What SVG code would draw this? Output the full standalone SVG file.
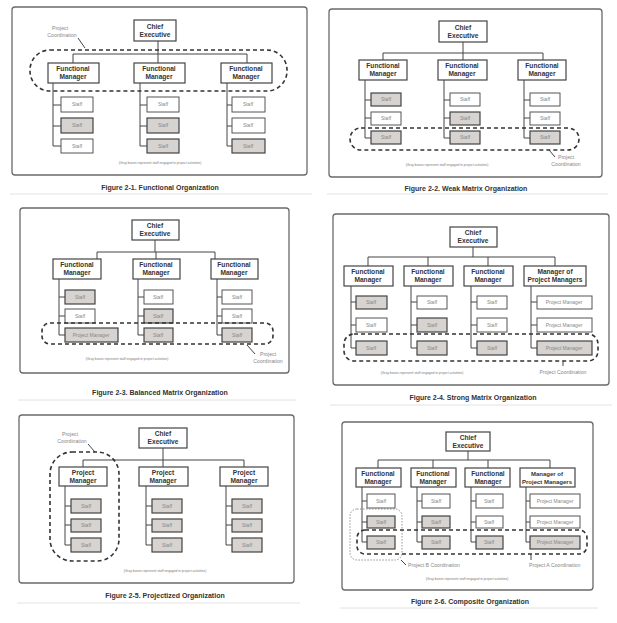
<svg xmlns="http://www.w3.org/2000/svg" width="617" height="623" viewBox="0 0 617 623">
<style>
.fr{fill:#fff;stroke:#6a6a6a;stroke-width:1.3}
.b{fill:#fff;stroke:#444;stroke-width:1.2}
.w{fill:#fff;stroke:#555;stroke-width:1}
.g{fill:#d6d3d0;stroke:#444;stroke-width:1.2}
.l{fill:none;stroke:#444;stroke-width:1}
.d{fill:none;stroke:#333;stroke-width:1.6;stroke-dasharray:4 3}
.dt{fill:none;stroke:#777;stroke-width:0.8;stroke-dasharray:1.5 1.5}
.sep{stroke:#e2e2e2;stroke-width:1}
text{font-family:"Liberation Sans",Arial,sans-serif;text-anchor:middle}
.t{font-size:6.6px;font-weight:bold;fill:#333}
.s{font-size:5px;fill:#888}
.n{font-size:3.3px;fill:#777}
.c{font-size:7px;font-weight:bold;fill:#333}
.p{font-size:5.2px;fill:#888}
.pl{font-size:5.2px;fill:#888;text-anchor:start}
</style>
<rect width="617" height="623" fill="#fff"/>

<!-- Panel 1 -->
<g id="panel1">
<rect class="fr" x="12" y="7" width="295" height="168" rx="3"/>
<line class="sep" x1="10" y1="194" x2="312" y2="194"/>
<text class="c" x="160" y="190">Figure 2-1. Functional Organization</text>
<g id="p1-connectors">
<path class="l" d="M158 41V54M73 54H247M73 54V63M158 54V63M247 54V63M53 83V146H61M53 105H61M53 126H61M140 83V146H147M140 105H147M140 126H147M227 83V146H232M227 105H232M227 126H232M78 38L85 48"/>
</g>
<g id="p1-chief"><rect class="b" x="134" y="20" width="42" height="21"/><text class="t" x="155" y="29">Chief</text><text class="t" x="155" y="37">Executive</text></g>
<g id="p1-fm1"><rect class="b" x="48" y="63" width="51" height="20"/><text class="t" x="73" y="71">Functional</text><text class="t" x="73" y="79">Manager</text></g>
<g id="p1-fm2"><rect class="b" x="134" y="63" width="51" height="20"/><text class="t" x="159" y="71">Functional</text><text class="t" x="159" y="79">Manager</text></g>
<g id="p1-fm3"><rect class="b" x="221" y="63" width="51" height="20"/><text class="t" x="246" y="71">Functional</text><text class="t" x="246" y="79">Manager</text></g>
<g id="p1-s"><rect class="w" x="61" y="97" width="32" height="15"/><text class="s" x="77" y="106">Staff</text>
<rect class="g" x="61" y="118" width="32" height="15"/><text class="s" x="77" y="127">Staff</text>
<rect class="w" x="61" y="139" width="32" height="14"/><text class="s" x="77" y="148">Staff</text>
<rect class="w" x="147" y="97" width="32" height="15"/><text class="s" x="163" y="106">Staff</text>
<rect class="g" x="147" y="118" width="32" height="15"/><text class="s" x="163" y="127">Staff</text>
<rect class="g" x="147" y="139" width="32" height="14"/><text class="s" x="163" y="148">Staff</text>
<rect class="w" x="232" y="97" width="33" height="15"/><text class="s" x="248" y="106">Staff</text>
<rect class="w" x="232" y="118" width="33" height="15"/><text class="s" x="248" y="127">Staff</text>
<rect class="g" x="232" y="139" width="33" height="14"/><text class="s" x="248" y="148">Staff</text></g>
<rect class="d" x="30" y="50" width="257" height="41" rx="20"/>
<text class="p" x="60" y="30">Project</text><text class="p" x="62" y="37">Coordination</text>
<text class="n" x="160" y="164">(Gray boxes represent staff engaged in project activities)</text>
</g>

<!-- Panel 2 -->
<g id="panel2">
<rect class="fr" x="329" y="9" width="273" height="168" rx="3"/>
<line class="sep" x1="327" y1="194" x2="608" y2="194"/>
<text class="c" x="466" y="191">Figure 2-2. Weak Matrix Organization</text>
<g id="p2-connectors">
<path class="l" d="M463 42V53M383 53H543M383 53V60M463 53V60M543 53V60M365 80V138H371M365 100H371M365 118H371M444 80V138H450M444 100H450M444 118H450M524 80V138H530M524 100H530M524 118H530M549 150L555 157"/>
</g>
<g id="p2-chief"><rect class="b" x="439" y="21" width="48" height="21"/><text class="t" x="463" y="30">Chief</text><text class="t" x="463" y="38">Executive</text></g>
<g id="p2-fm1"><rect class="b" x="359" y="60" width="48" height="20"/><text class="t" x="383" y="68">Functional</text><text class="t" x="383" y="76">Manager</text></g>
<g id="p2-fm2"><rect class="b" x="438" y="60" width="49" height="20"/><text class="t" x="462" y="68">Functional</text><text class="t" x="462" y="76">Manager</text></g>
<g id="p2-fm3"><rect class="b" x="518" y="60" width="48" height="20"/><text class="t" x="542" y="68">Functional</text><text class="t" x="542" y="76">Manager</text></g>
<g id="p2-s">
<rect class="g" x="371" y="93" width="30" height="13"/><text class="s" x="386" y="101">Staff</text>
<rect class="w" x="371" y="112" width="30" height="13"/><text class="s" x="386" y="120">Staff</text>
<rect class="g" x="371" y="131" width="30" height="13"/><text class="s" x="386" y="139">Staff</text>
<rect class="w" x="450" y="93" width="30" height="13"/><text class="s" x="465" y="101">Staff</text>
<rect class="g" x="450" y="112" width="30" height="13"/><text class="s" x="465" y="120">Staff</text>
<rect class="g" x="450" y="131" width="30" height="13"/><text class="s" x="465" y="139">Staff</text>
<rect class="w" x="530" y="93" width="30" height="13"/><text class="s" x="545" y="101">Staff</text>
<rect class="w" x="530" y="112" width="30" height="13"/><text class="s" x="545" y="120">Staff</text>
<rect class="g" x="530" y="131" width="30" height="13"/><text class="s" x="545" y="139">Staff</text></g>
<rect class="d" x="350" y="128" width="229" height="22" rx="11"/>
<text class="p" x="566" y="159">Project</text><text class="p" x="566" y="166">Coordination</text>
<text class="n" x="447" y="166">(Gray boxes represent staff engaged in project activities)</text>
</g>

<!-- Panel 3 -->
<g id="panel3">
<rect class="fr" x="20" y="208" width="269" height="165" rx="3"/>
<line class="sep" x1="18" y1="400" x2="296" y2="400"/>
<text class="c" x="160" y="395">Figure 2-3. Balanced Matrix Organization</text>
<g id="p3-connectors">
<path class="l" d="M155 240V252M97 252H215M97 252V259M156 252V259M215 252V259M59 279V335H65M59 297H65M59 316H65M138 279V335H144M138 297H144M138 316H144M217 279V335H222M217 297H222M217 316H222M247 345L255 354"/>
</g>
<g id="p3-chief"><rect class="b" x="132" y="220" width="47" height="20"/><text class="t" x="155" y="228">Chief</text><text class="t" x="155" y="236">Executive</text></g>
<g id="p3-fm1"><rect class="b" x="53" y="259" width="48" height="20"/><text class="t" x="77" y="267">Functional</text><text class="t" x="77" y="275">Manager</text></g>
<g id="p3-fm2"><rect class="b" x="133" y="259" width="47" height="20"/><text class="t" x="156" y="267">Functional</text><text class="t" x="156" y="275">Manager</text></g>
<g id="p3-fm3"><rect class="b" x="211" y="259" width="47" height="20"/><text class="t" x="234" y="267">Functional</text><text class="t" x="234" y="275">Manager</text></g>
<g id="p3-s">
<rect class="g" x="65" y="290" width="30" height="14"/><text class="s" x="80" y="299">Staff</text>
<rect class="w" x="65" y="309" width="30" height="14"/><text class="s" x="80" y="318">Staff</text>
<rect class="g" x="65" y="328" width="53" height="14"/><text class="s" x="91" y="337">Project Manager</text>
<rect class="w" x="144" y="290" width="29" height="14"/><text class="s" x="158" y="299">Staff</text>
<rect class="g" x="144" y="309" width="29" height="14"/><text class="s" x="158" y="318">Staff</text>
<rect class="g" x="144" y="328" width="29" height="14"/><text class="s" x="158" y="337">Staff</text>
<rect class="w" x="222" y="290" width="30" height="14"/><text class="s" x="237" y="299">Staff</text>
<rect class="w" x="222" y="309" width="30" height="14"/><text class="s" x="237" y="318">Staff</text>
<rect class="g" x="222" y="328" width="30" height="14"/><text class="s" x="237" y="337">Staff</text></g>
<rect class="d" x="42" y="323" width="231" height="21" rx="8"/>
<text class="p" x="268" y="356">Project</text><text class="p" x="268" y="363">Coordination</text>
<text class="n" x="127" y="360">(Gray boxes represent staff engaged in project activities)</text>
</g>

<!-- Panel 4 -->
<g id="panel4">
<rect class="fr" x="333" y="214" width="276" height="171" rx="3"/>
<line class="sep" x1="330" y1="405" x2="612" y2="405"/>
<text class="c" x="473" y="400">Figure 2-4. Strong Matrix Organization</text>
<g id="p4-connectors">
<path class="l" d="M473 247V257M368 257H555M368 257V266M428 257V266M488 257V266M555 257V266M351 286V348H356M351 302H356M351 325H356M411 286V348H417M411 302H417M411 325H417M471 286V348H477M471 302H477M471 325H477M531 286V348H537M531 302H537M531 325H537M563 361V366"/>
</g>
<g id="p4-chief"><rect class="b" x="450" y="227" width="47" height="20"/><text class="t" x="473" y="235">Chief</text><text class="t" x="473" y="243">Executive</text></g>
<g id="p4-fm1"><rect class="b" x="344" y="266" width="49" height="20"/><text class="t" x="368" y="274">Functional</text><text class="t" x="368" y="282">Manager</text></g>
<g id="p4-fm2"><rect class="b" x="404" y="266" width="49" height="20"/><text class="t" x="428" y="274">Functional</text><text class="t" x="428" y="282">Manager</text></g>
<g id="p4-fm3"><rect class="b" x="464" y="266" width="49" height="20"/><text class="t" x="488" y="274">Functional</text><text class="t" x="488" y="282">Manager</text></g>
<g id="p4-mpm"><rect class="b" x="524" y="266" width="62" height="20"/><text class="t" x="555" y="274">Manager of</text><text class="t" x="555" y="282">Project Managers</text></g>
<g id="p4-s">
<rect class="g" x="356" y="296" width="31" height="13"/><text class="s" x="371" y="304">Staff</text>
<rect class="w" x="356" y="318" width="31" height="14"/><text class="s" x="371" y="327">Staff</text>
<rect class="g" x="356" y="341" width="31" height="14"/><text class="s" x="371" y="350">Staff</text>
<rect class="w" x="417" y="296" width="30" height="13"/><text class="s" x="432" y="304">Staff</text>
<rect class="g" x="417" y="318" width="30" height="14"/><text class="s" x="432" y="327">Staff</text>
<rect class="g" x="417" y="341" width="30" height="14"/><text class="s" x="432" y="350">Staff</text>
<rect class="w" x="477" y="296" width="30" height="13"/><text class="s" x="492" y="304">Staff</text>
<rect class="w" x="477" y="318" width="30" height="14"/><text class="s" x="492" y="327">Staff</text>
<rect class="g" x="477" y="341" width="30" height="14"/><text class="s" x="492" y="350">Staff</text>
<rect class="w" x="537" y="296" width="55" height="13"/><text class="s" x="564" y="304">Project Manager</text>
<rect class="w" x="537" y="318" width="55" height="14"/><text class="s" x="564" y="327">Project Manager</text>
<rect class="g" x="537" y="341" width="55" height="14"/><text class="s" x="564" y="350">Project Manager</text></g>
<rect class="d" x="344" y="334" width="254" height="27" rx="10"/>
<text class="p" x="563" y="374">Project Coordination</text>
<text class="n" x="422" y="374">(Gray boxes represent staff engaged in project activities)</text>
</g>

<!-- Panel 5 -->
<g id="panel5">
<rect class="fr" x="19" y="415" width="275" height="168" rx="3"/>
<line class="sep" x1="17" y1="603" x2="300" y2="603"/>
<text class="c" x="165" y="598">Figure 2-5. Projectized Organization</text>
<g id="p5-connectors">
<path class="l" d="M163 448V460M83 460H244M83 460V467M163 460V467M244 460V467M65 486V545H71M65 506H71M65 525H71M146 486V545H152M146 506H152M146 525H152M226 486V545H232M226 506H232M226 525H232M88 444L95 452"/>
</g>
<g id="p5-chief"><rect class="b" x="139" y="428" width="48" height="20"/><text class="t" x="163" y="436">Chief</text><text class="t" x="163" y="444">Executive</text></g>
<g id="p5-pm1"><rect class="b" x="59" y="467" width="48" height="19"/><text class="t" x="83" y="475">Project</text><text class="t" x="83" y="483">Manager</text></g>
<g id="p5-pm2"><rect class="b" x="139" y="467" width="49" height="19"/><text class="t" x="163" y="475">Project</text><text class="t" x="163" y="483">Manager</text></g>
<g id="p5-pm3"><rect class="b" x="220" y="467" width="48" height="19"/><text class="t" x="244" y="475">Project</text><text class="t" x="244" y="483">Manager</text></g>
<g id="p5-s">
<rect class="g" x="71" y="499" width="30" height="14"/><text class="s" x="86" y="508">Staff</text>
<rect class="g" x="71" y="519" width="30" height="13"/><text class="s" x="86" y="527">Staff</text>
<rect class="g" x="71" y="538" width="30" height="14"/><text class="s" x="86" y="547">Staff</text>
<rect class="g" x="152" y="499" width="30" height="14"/><text class="s" x="167" y="508">Staff</text>
<rect class="g" x="152" y="519" width="30" height="13"/><text class="s" x="167" y="527">Staff</text>
<rect class="g" x="152" y="538" width="30" height="14"/><text class="s" x="167" y="547">Staff</text>
<rect class="g" x="232" y="499" width="30" height="14"/><text class="s" x="247" y="508">Staff</text>
<rect class="g" x="232" y="519" width="30" height="13"/><text class="s" x="247" y="527">Staff</text>
<rect class="g" x="232" y="538" width="30" height="14"/><text class="s" x="247" y="547">Staff</text></g>
<rect class="d" x="50" y="452" width="69" height="109" rx="22"/>
<text class="p" x="70" y="436">Project</text><text class="p" x="72" y="443">Coordination</text>
<text class="n" x="165" y="572">(Gray boxes represent staff engaged in project activities)</text>
</g>

<!-- Panel 6 -->
<g id="panel6">
<rect class="fr" x="342" y="422" width="251" height="168" rx="3"/>
<line class="sep" x1="340" y1="608" x2="598" y2="608"/>
<text class="c" x="470" y="604">Figure 2-6. Composite Organization</text>
<g id="p6-connectors">
<path class="l" d="M468 451V460M378 460H550M378 460V468M433 460V468M488 460V468M550 460V468M362 487V542H367M362 501H367M362 522H367M417 487V542H422M417 501H422M417 522H422M471 487V542H476M471 501H476M471 522H476M526 487V542H530M526 501H530M526 522H530"/>
<path class="l" d="M401 560L406 565M531 554V560" stroke="#999"/>
</g>
<g id="p6-chief"><rect class="b" x="446" y="432" width="44" height="19"/><text class="t" x="468" y="440">Chief</text><text class="t" x="468" y="448">Executive</text></g>
<g id="p6-fm1"><rect class="b" x="356" y="468" width="45" height="19"/><text class="t" x="378" y="476">Functional</text><text class="t" x="378" y="484">Manager</text></g>
<g id="p6-fm2"><rect class="b" x="411" y="468" width="45" height="19"/><text class="t" x="433" y="476">Functional</text><text class="t" x="433" y="484">Manager</text></g>
<g id="p6-fm3"><rect class="b" x="465" y="468" width="45" height="19"/><text class="t" x="488" y="476">Functional</text><text class="t" x="488" y="484">Manager</text></g>
<g id="p6-mpm"><rect class="b" x="520" y="468" width="55" height="19"/><text class="t" x="547" y="476" style="font-size:6px">Manager of</text><text class="t" x="547" y="484" style="font-size:6px">Project Managers</text></g>
<g id="p6-s">
<rect class="w" x="367" y="494" width="28" height="14"/><text class="s" x="381" y="503">Staff</text>
<rect class="g" x="367" y="516" width="28" height="12"/><text class="s" x="381" y="524">Staff</text>
<rect class="g" x="367" y="536" width="28" height="13"/><text class="s" x="381" y="544">Staff</text>
<rect class="w" x="422" y="494" width="28" height="14"/><text class="s" x="436" y="503">Staff</text>
<rect class="g" x="422" y="516" width="28" height="12"/><text class="s" x="436" y="524">Staff</text>
<rect class="g" x="422" y="536" width="28" height="13"/><text class="s" x="436" y="544">Staff</text>
<rect class="w" x="476" y="494" width="27" height="14"/><text class="s" x="489" y="503">Staff</text>
<rect class="w" x="476" y="516" width="27" height="12"/><text class="s" x="489" y="524">Staff</text>
<rect class="g" x="476" y="536" width="27" height="13"/><text class="s" x="489" y="544">Staff</text>
<rect class="w" x="530" y="494" width="50" height="14"/><text class="s" x="555" y="503">Project Manager</text>
<rect class="w" x="530" y="516" width="50" height="12"/><text class="s" x="555" y="524">Project Manager</text>
<rect class="g" x="530" y="536" width="50" height="13"/><text class="s" x="555" y="544">Project Manager</text></g>
<rect class="dt" x="350" y="509" width="52" height="51" rx="7"/>
<rect class="d" x="357" y="530" width="230" height="24" rx="8"/>
<text class="pl" x="408" y="567">Project B Coordination</text>
<text class="pl" x="529" y="567">Project A Coordination</text>
<text class="n" x="467" y="580">(Gray boxes represent staff engaged in project activities)</text>
</g>
</svg>
